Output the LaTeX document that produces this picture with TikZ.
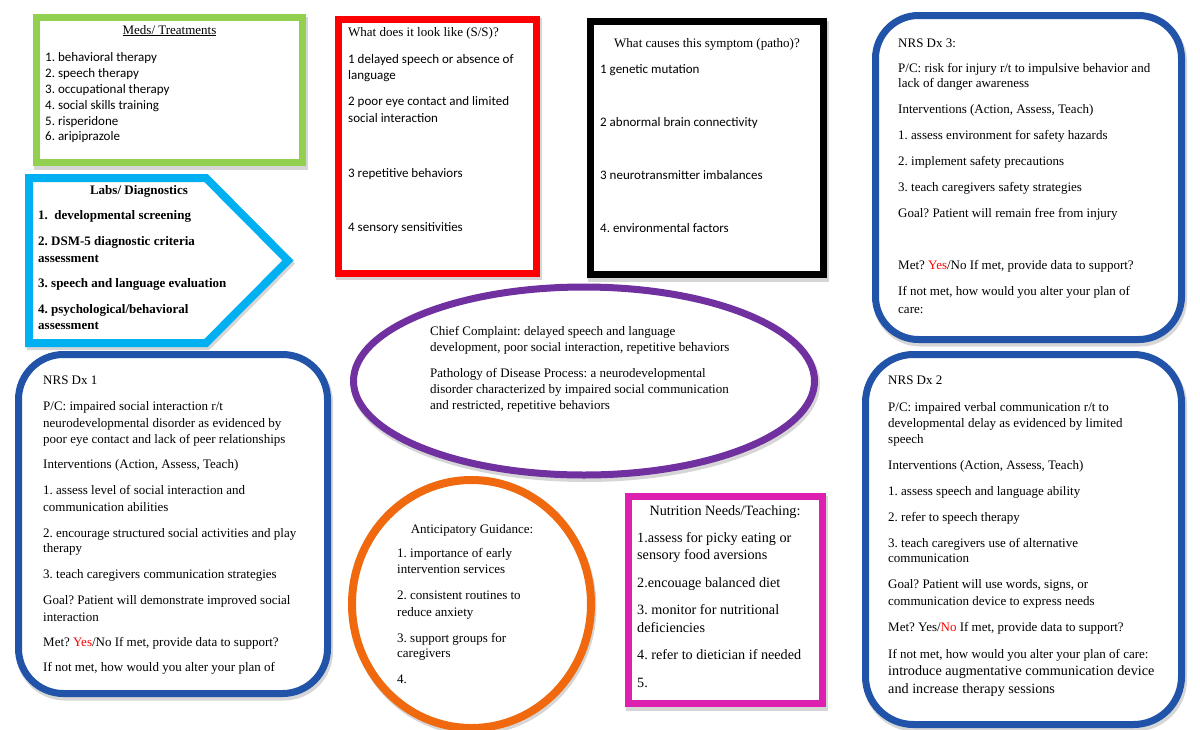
\documentclass[tikz,border=0pt]{standalone}
\usepackage{fontspec}
\setmainfont{Liberation Serif}
\newfontfamily\calib{Carlito}
\usetikzlibrary{shapes.geometric}
\definecolor{cgreen}{HTML}{92D050}
\definecolor{ccyan}{HTML}{00B0F0}
\definecolor{cred}{HTML}{FF0000}
\definecolor{cblue}{HTML}{2153A9}
\definecolor{cpurple}{HTML}{7030A0}
\definecolor{corange}{HTML}{F0690F}
\definecolor{cmag}{HTML}{DE20B0}
\newcommand\tline[3][tl]{\node[#1] at (#2) {#3};}
\begin{document}
\frenchspacing
\begin{tikzpicture}[x=1pt,y=-1pt,
  shadowbox/.style={draw=black!45, opacity=0.35, line width=8pt, inner sep=0pt},
  frame/.style={draw=#1, fill=white, line width=7pt, inner sep=0pt},
  tl/.style={anchor=base west, inner sep=0pt, font=\fontsize{13}{16}\selectfont},
  tc/.style={anchor=base, inner sep=0pt, font=\fontsize{13}{16}\selectfont},
  cl/.style={anchor=base west, inner sep=0pt, font=\calib\fontsize{13}{16}\selectfont},
  bl/.style={anchor=base west, inner sep=0pt, font=\bfseries\fontsize{13}{16}\selectfont},
  bc/.style={anchor=base, inner sep=0pt, font=\bfseries\fontsize{13}{16}\selectfont},
  nl/.style={anchor=base west, inner sep=0pt, font=\fontsize{14.2}{17}\selectfont},
  nc/.style={anchor=base, inner sep=0pt, font=\fontsize{14.2}{17}\selectfont}
]
\useasboundingbox[fill=white] (0,0) rectangle (1200,729);

% ---------- shadows ----------
\node[shadowbox, rectangle, minimum width=266pt, minimum height=145pt] (meds-sh) at (171,93) {};
\draw[black!45, opacity=0.35, line width=8pt, line join=miter] (30.5,181) -- (207.5,181) -- (289.5,263.5) -- (207.5,346) -- (30.5,346) -- cycle;
\node[shadowbox, rectangle, minimum width=198pt, minimum height=254pt] (ss-sh) at (438.5,149) {};
\node[shadowbox, rectangle, minimum width=233pt, minimum height=253pt] (patho-sh) at (708.5,151) {};
\node[shadowbox, rectangle, rounded corners=43pt, minimum width=306pt, minimum height=324pt] (dx3-sh) at (1030,180.5) {};
\node[shadowbox, ellipse, minimum width=461pt, minimum height=188pt] (cc-sh) at (585.5,384) {};
\node[shadowbox, rectangle, rounded corners=45pt, minimum width=309pt, minimum height=339pt] (dx1-sh) at (174.5,527) {};
\node[shadowbox, ellipse, minimum width=239pt, minimum height=248pt] (ag-sh) at (473,607) {};
\node[shadowbox, rectangle, minimum width=194pt, minimum height=207pt] (nut-sh) at (727,603) {};
\node[shadowbox, rectangle, rounded corners=48pt, minimum width=316pt, minimum height=370pt] (dx2-sh) at (1025,542.5) {};

% ---------- frames ----------
\node[frame=cgreen, rectangle, minimum width=266pt, minimum height=145pt] (meds) at (169.5,90) {};
\draw[ccyan, line width=8pt, fill=white, line join=miter] (29,178) -- (206,178) -- (288,260.5) -- (206,343) -- (29,343) -- cycle;
\coordinate (labs) at (150,260);
\node[frame=cred, rectangle, minimum width=198pt, minimum height=254pt] (ss) at (437,146) {};
\node[frame=black, rectangle, minimum width=233pt, minimum height=253pt] (patho) at (707,148) {};
\node[frame=cblue, rectangle, rounded corners=43pt, minimum width=306pt, minimum height=324pt] (dx3) at (1028.5,177.5) {};
\node[frame=cpurple, ellipse, minimum width=461pt, minimum height=188pt] (cc) at (584,381) {};
\node[frame=cblue, rectangle, rounded corners=45pt, minimum width=309pt, minimum height=339pt] (dx1) at (173,524) {};
\node[frame=corange, ellipse, line width=8pt, minimum width=239pt, minimum height=248pt] (ag) at (471.5,604) {};
\node[frame=cmag, rectangle, minimum width=194pt, minimum height=207pt] (nut) at (725.5,600) {};
\node[frame=cblue, rectangle, rounded corners=48pt, minimum width=316pt, minimum height=370pt] (dx2) at (1023.5,539.5) {};

% ---------- Meds ----------
\tline[tc]{169.5,34}{\underline{Meds/ Treatments}}
\tline[cl]{45,61}{1. behavioral therapy}
\tline[cl]{45,77}{2. speech therapy}
\tline[cl]{45,93}{3. occupational therapy}
\tline[cl]{45,109}{4. social skills training}
\tline[cl]{45,125}{5. risperidone}
\tline[cl]{45,140}{6. aripiprazole}

% ---------- Labs ----------
\tline[bc]{139,194}{Labs/ Diagnostics}
\tline[bl]{38,219}{1.\ \ developmental screening}
\tline[bl]{38,245}{2. DSM-5 diagnostic criteria}
\tline[bl]{38,262}{assessment}
\tline[bl]{38,287}{3. speech and language evaluation}
\tline[bl]{38,313}{4. psychological/behavioral}
\tline[bl]{38,329}{assessment}

% ---------- S/S ----------
\tline[tl]{348,36}{What does it look like (S/S)?}
\tline[cl]{348,63}{1 delayed speech or absence of}
\tline[cl]{348,79}{language}
\tline[cl]{348,105}{2 poor eye contact and limited}
\tline[cl]{348,122}{social interaction}
\tline[cl]{348,177}{3 repetitive behaviors}
\tline[cl]{348,231}{4 sensory sensitivities}

% ---------- Patho ----------
\tline[tc]{707,47}{What causes this symptom (patho)?}
\tline[cl]{600,73}{1 genetic mutation}
\tline[cl]{600,126}{2 abnormal brain connectivity}
\tline[cl]{600,179}{3 neurotransmitter imbalances}
\tline[cl]{600,232}{4. environmental factors}

% ---------- NRS Dx 3 ----------
\tline[tl]{898,47}{NRS Dx 3:}
\tline[tl]{898,72}{P/C: risk for injury r/t to impulsive behavior and}
\tline[tl]{898,87}{lack of danger awareness}
\tline[tl]{898,113}{Interventions (Action, Assess, Teach)}
\tline[tl]{898,139}{1. assess environment for safety hazards}
\tline[tl]{898,165}{2. implement safety precautions}
\tline[tl]{898,191}{3. teach caregivers safety strategies}
\tline[tl]{898,217}{Goal? Patient will remain free from injury}
\tline[tl]{898,269}{Met? \textcolor{cred}{Yes}/No If met, provide data to support?}
\tline[tl]{898,295}{If not met, how would you alter your plan of}
\tline[tl]{898,313}{care:}

% ---------- Chief complaint ----------
\tline[tl]{430,335}{Chief Complaint: delayed speech and language}
\tline[tl]{430,351}{development, poor social interaction, repetitive behaviors}
\tline[tl]{430,377}{Pathology of Disease Process: a neurodevelopmental}
\tline[tl]{430,393}{disorder characterized by impaired social communication}
\tline[tl]{430,409}{and restricted, repetitive behaviors}

% ---------- NRS Dx 1 ----------
\tline[tl]{43,384}{NRS Dx 1}
\tline[tl]{43,410}{P/C: impaired social interaction r/t}
\tline[tl]{43,427}{neurodevelopmental disorder as evidenced by}
\tline[tl]{43,443}{poor eye contact and lack of peer relationships}
\tline[tl]{43,468}{Interventions (Action, Assess, Teach)}
\tline[tl]{43,494}{1. assess level of social interaction and}
\tline[tl]{43,511}{communication abilities}
\tline[tl]{43,537}{2. encourage structured social activities and play}
\tline[tl]{43,552}{therapy}
\tline[tl]{43,578}{3. teach caregivers communication strategies}
\tline[tl]{43,604}{Goal? Patient will demonstrate improved social}
\tline[tl]{43,621}{interaction}
\tline[tl]{43,646}{Met? \textcolor{cred}{Yes}/No If met, provide data to support?}
\begin{scope}
\clip (30,655) rectangle (320,673.5);
\tline[tl]{43,671}{If not met, how would you alter your plan of}
\end{scope}

% ---------- Anticipatory guidance ----------
\tline[tc]{472,533}{Anticipatory Guidance:}
\tline[tl]{397,557}{1. importance of early}
\tline[tl]{397,573}{intervention services}
\tline[tl]{397,599}{2. consistent routines to}
\tline[tl]{397,616}{reduce anxiety}
\tline[tl]{397,642}{3. support groups for}
\tline[tl]{397,657}{caregivers}
\tline[tl]{397,683}{4.}

% ---------- Nutrition ----------
\tline[nc]{725,515}{Nutrition Needs/Teaching:}
\tline[nl]{637,542}{1.assess for picky eating or}
\tline[nl]{637,559}{sensory food aversions}
\tline[nl]{637,587}{2.encouage balanced diet}
\tline[nl]{637,614}{3. monitor for nutritional}
\tline[nl]{637,632}{deficiencies}
\tline[nl]{637,659}{4. refer to dietician if needed}
\tline[nl]{637,687}{5.}

% ---------- NRS Dx 2 ----------
\tline[tl]{888,384}{NRS Dx 2}
\tline[tl]{888,411}{P/C: impaired verbal communication r/t to}
\tline[tl]{888,427}{developmental delay as evidenced by limited}
\tline[tl]{888,443}{speech}
\tline[tl]{888,469}{Interventions (Action, Assess, Teach)}
\tline[tl]{888,495}{1. assess speech and language ability}
\tline[tl]{888,521}{2. refer to speech therapy}
\tline[tl]{888,547}{3. teach caregivers use of alternative}
\tline[tl]{888,562}{communication}
\tline[tl]{888,588}{Goal? Patient will use words, signs, or}
\tline[tl]{888,605}{communication device to express needs}
\tline[tl]{888,631}{Met? Yes/\textcolor{cred}{No} If met, provide data to support?}
\tline[tl]{888,658}{If not met, how would you alter your plan of care:}
\tline[nl]{888,675}{introduce augmentative communication device}
\tline[nl]{888,693}{and increase therapy sessions}
\end{tikzpicture}
\end{document}
